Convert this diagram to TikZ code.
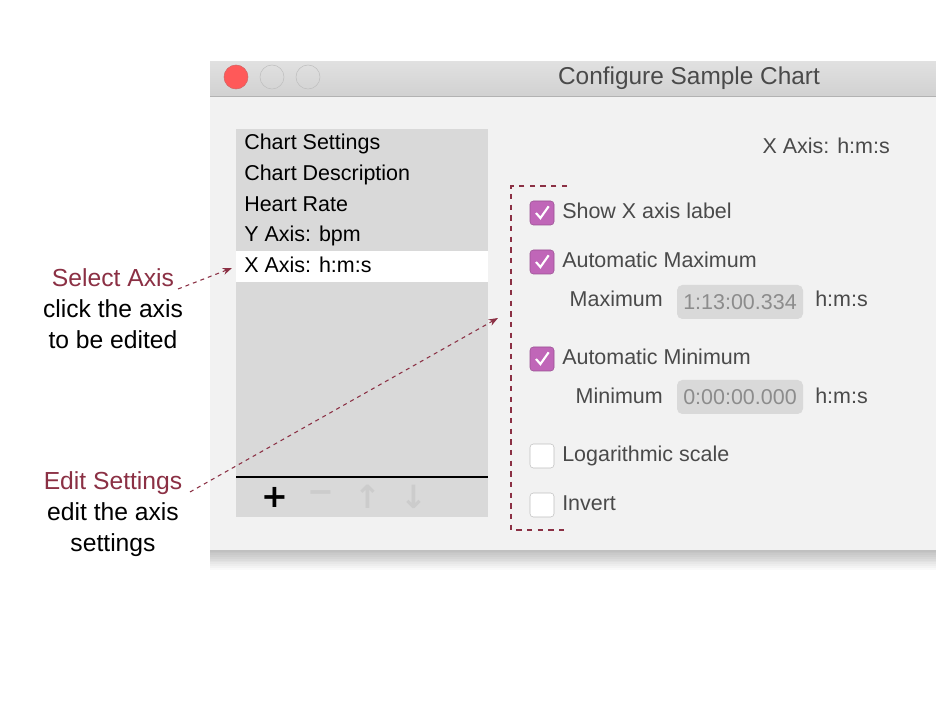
\documentclass[tikz,border=0pt]{standalone}
\usepackage{fontspec}
\setmainfont{Liberation Sans}
\newfontfamily\symfont{DejaVu Sans}
\usetikzlibrary{arrows.meta}
\definecolor{annot}{HTML}{8B3044}
\definecolor{uitext}{HTML}{4A4A4A}
\definecolor{checkpink}{HTML}{C066B8}
\begin{document}
\begin{tikzpicture}[x=0.75pt, y=-0.75pt]
\tikzset{lbl/.style={font=\fontsize{16.1}{19}\selectfont, inner sep=0pt, text height=11.6pt, text depth=3.4pt},
  uilbl/.style={lbl, text=uitext, anchor=west},
  listitem/.style={lbl, anchor=west},
  note/.style={font=\fontsize{18.5}{23.2}\selectfont, align=center, inner sep=0pt},
  field/.style={draw=none, fill=black!15, rounded corners=4pt, minimum width=94.5pt, minimum height=25.5pt, text=black!45, font=\fontsize{16.1}{19}\selectfont, inner sep=0pt},
  cbon/.style={fill=checkpink, draw=checkpink!80!black, rounded corners=2.5pt, minimum size=18pt, inner sep=0pt},
  cboff/.style={fill=white, draw=black!25, rounded corners=2.5pt, minimum size=18pt, inner sep=0pt},
  toolbtn/.style={font=\symfont\bfseries\fontsize{24}{24}\selectfont, text=black!20, inner sep=0pt},
  pointer/.style={annot, thick, dashed, -{Stealth[length=7pt]}},
  bracket/.style={annot, thick, dash pattern=on 4pt off 4pt}}
\useasboundingbox (0,0) rectangle (936,720);
\fill[white] (0,0) rectangle (936,720);
% window with shadow
\foreach \i in {1,...,12}
  \fill[black, opacity=0.025] (210,62+\i) rectangle (936,548+1.8*\i);
\fill[black!5] (210,62) rectangle (936,550);
\shade[top color=black!12, bottom color=black!18] (210,62) rectangle (936,96);
\draw[black!30] (210,96.5) -- (936,96.5);
\node[circle, fill=red!65, draw=red!70!black!60, minimum size=18pt, inner sep=0pt] (close) at (236,77) {};
\node[circle, draw=black!25, minimum size=18pt, inner sep=0pt] (minimize) at (272,77) {};
\node[circle, draw=black!25, minimum size=18pt, inner sep=0pt] (zoom) at (308,77) {};
\node[font=\fontsize{18.3}{22}\selectfont, text=uitext] (title) at (689,78) {Configure Sample Chart};
% list
\fill[black!15] (236,129) rectangle (488,517);
\fill[white] (236,251) rectangle (488,282);
\draw[black, thick] (236,477) -- (488,477);
\foreach \name/\y/\txt in {settings/144/Chart Settings, desc/175/Chart Description, heart/206/Heart Rate, yaxis/236/Y Axis: bpm, xaxis/267/X Axis: h:m:s}
  \node[listitem] (\name) at (244,\y) {\txt};
\node[toolbtn, text=black] (add) at (275,497) {+};
\node[toolbtn] (remove) at (321,497) {−};
\node[toolbtn] (up) at (368,497) {↑};
\node[toolbtn] (down) at (414,497) {↓};
% settings pane
\node[lbl, text=uitext, anchor=east] (head) at (890,148) {X Axis: h:m:s};
\foreach \name/\y/\st/\txt in {showlbl/213/cbon/Show X axis label, automax/262/cbon/Automatic Maximum, automin/359/cbon/Automatic Minimum, logscale/456/cboff/Logarithmic scale, invert/505/cboff/Invert}{
  \node[\st] (cb-\name) at (542,\y) {};
  \node[uilbl] (t-\name) at (562,\y) {\txt};
}
\foreach \name in {showlbl, automax, automin}
  \draw[white, line width=1.6pt] ([xshift=-4.5pt, yshift=0pt]cb-\name.center) -- ([xshift=-1.2pt,yshift=-3.8pt]cb-\name.center) -- ([xshift=5pt,yshift=5pt]cb-\name.center);
\node[lbl, text=uitext, anchor=east] (maxlbl) at (663,301) {Maximum};
\node[field] (maxfield) at (740,302) {1:13:00.334};
\node[uilbl] (maxunit) at (815,301) {h:m:s};
\node[lbl, text=uitext, anchor=east] (minlbl) at (663,398) {Minimum};
\node[field] (minfield) at (740,397) {0:00:00.000};
\node[uilbl] (minunit) at (815,398) {h:m:s};
\draw[bracket] (567,186) -- (511,186) -- (511,530) -- (567,530);
% annotations
\node[note] (selaxis) at (113,309) {\textcolor{annot}{Select Axis}\\click the axis\\to be edited};
\node[note] (editset) at (113,514) {\textcolor{annot}{Edit Settings}\\edit the axis\\settings};
\coordinate (selend) at (232,268);
\coordinate (editend) at (498,318);
\draw[pointer] (178,289) -- (selend);
\draw[pointer] (190,492) -- (editend);
\end{tikzpicture}
\end{document}
